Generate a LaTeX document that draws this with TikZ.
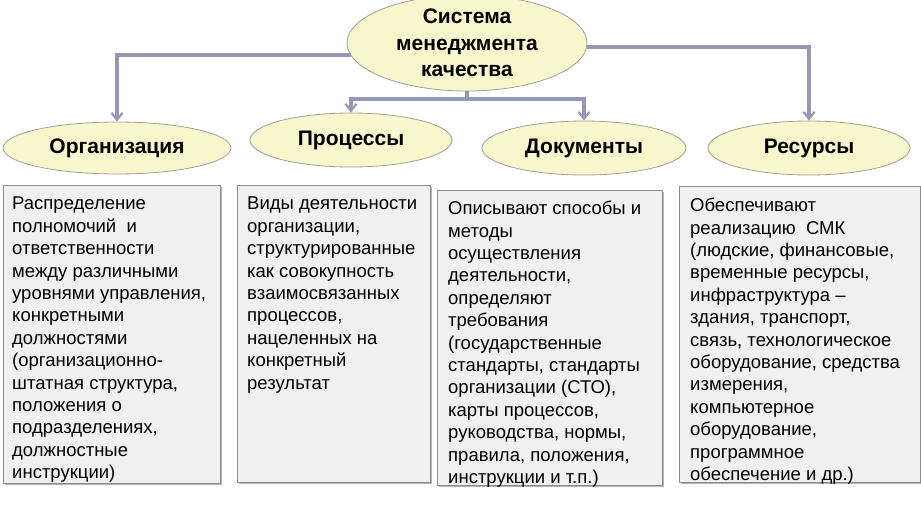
\documentclass[tikz,border=0pt]{standalone}
\usepackage{fontspec}
\setmainfont{Liberation Sans}
\usepackage{tikz}
\usepackage{xcolor}
\usetikzlibrary{shapes, arrows.meta, shadows, calc, positioning, fit}
\usetikzlibrary{shapes.geometric}

\definecolor{ovalfill}{RGB}{247,246,204}
\definecolor{ovaldraw}{RGB}{160,160,150}
\definecolor{linkcol}{RGB}{150,150,184}
\definecolor{panelfill}{RGB}{240,240,240}
\definecolor{paneldraw}{RGB}{140,140,140}

\tikzset{
    oval/.style={draw=ovaldraw, fill=ovalfill, ellipse, inner sep=0pt, line width=0.8pt, font=\fontsize{21}{26.5}\selectfont\bfseries, align=center},
    panel/.style={draw=paneldraw, fill=panelfill, anchor=north west, inner sep=0pt, line width=0.8pt, drop shadow={shadow xshift=1.2pt, shadow yshift=-1.2pt, opacity=0.3, fill=black}},
    paneltext/.style={inner sep=0pt, align=left, font=\fontsize{18.5}{22.4}\selectfont},
    link/.style={draw=linkcol, line width=3.5pt, -{Straight Barb[length=7pt, width=11pt, line width=2.2pt]}},
    stub/.style={draw=linkcol, line width=3.5pt}
}

\begin{document}
\begin{tikzpicture}[x=1pt, y=-1pt]
        \useasboundingbox (0,0) rectangle (921,512);

        % ovals
        \node [oval, minimum width=240, minimum height=84] (SMK) at (467,43) {Система\\менеджмента\\качества};
        \node [oval, minimum width=228, minimum height=52] (Org) at (117,148) {Организация};
        \node [oval, minimum width=202, minimum height=54] (Proc) at (351,140) {Процессы};
        \node [oval, minimum width=204, minimum height=54] (Doc) at (584,148) {Документы};
        \node [oval, minimum width=202, minimum height=54] (Res) at (809,148) {Ресурсы};

        % connectors
        \coordinate (split) at (467,99);
        \draw [link] (SMK.186) -| (Org.north);
        \draw [link] (SMK.358) -| (Res.north);
        \draw [stub] (SMK.south) -- (split);
        \draw [link] (split) -| (Proc.north);
        \draw [link] (split) -| (Doc.north);

        % panels
        \node [panel, minimum width=217, minimum height=298] (B1) at (3,185) {};
        \node [panel, minimum width=193, minimum height=297] (B2) at (237,185) {};
        \node [panel, minimum width=225, minimum height=295] (B3) at (437,190) {};
        \node [panel, minimum width=241, minimum height=296] (B4) at (679,186) {};

        \node [paneltext, below right=12pt and 9pt of B1.north west] (T1) {Распределение\\полномочий~ и\\ответственности\\между различными\\уровнями управления,\\конкретными\\должностями\\(организационно-\\штатная структура,\\положения о\\подразделениях,\\должностные\\инструкции)};
        \node [paneltext, below right=12pt and 10pt of B2.north west] (T2) {Виды деятельности\\организации,\\структурированные\\как совокупность\\взаимосвязанных\\процессов,\\нацеленных на\\конкретный\\результат};
        \node [paneltext, below right=11pt and 11pt of B3.north west] (T3) {Описывают способы и\\методы\\осуществления\\деятельности,\\определяют\\требования\\(государственные\\стандарты, стандарты\\организации (СТО),\\карты процессов,\\руководства, нормы,\\правила, положения,\\инструкции и т.п.)};
        \node [paneltext, below right=12pt and 11pt of B4.north west] (T4) {Обеспечивают\\реализацию~ СМК\\(людские, финансовые,\\временные ресурсы,\\инфраструктура --\\здания, транспорт,\\связь, технологическое\\оборудование, средства\\измерения,\\компьютерное\\оборудование,\\программное\\обеспечение и др.)};
\end{tikzpicture}
\end{document}
